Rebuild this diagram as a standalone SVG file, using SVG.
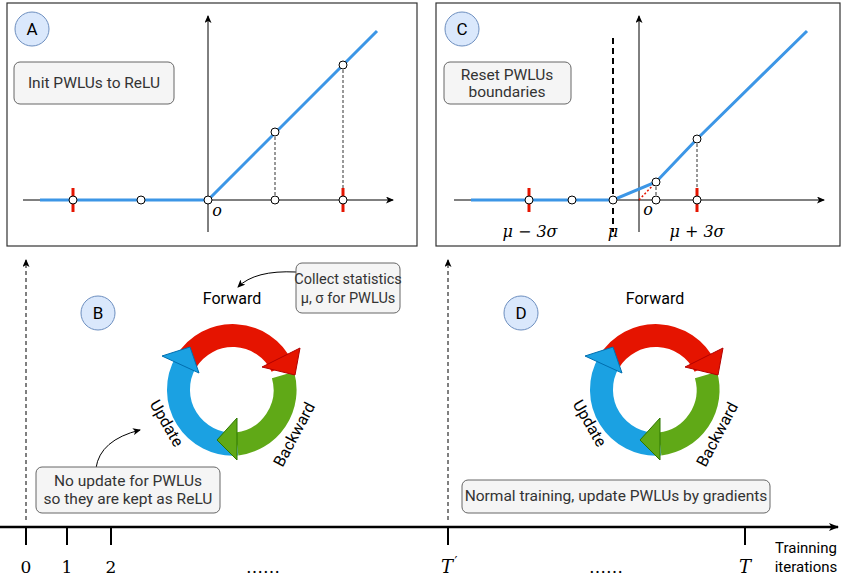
<svg xmlns="http://www.w3.org/2000/svg" width="846" height="579" viewBox="0 0 846 579">
<defs>
<marker id="ah" markerWidth="10" markerHeight="8" refX="9" refY="4" orient="auto" markerUnits="userSpaceOnUse"><path d="M0,0 L10,4 L0,8 L2.5,4 Z" fill="#000"/></marker>
<marker id="ahs" markerWidth="8" markerHeight="7" refX="7" refY="3.5" orient="auto" markerUnits="userSpaceOnUse"><path d="M0,0 L8,3.5 L0,7 L2,3.5 Z" fill="#000"/></marker>
<g id="cyc">
<path d="M186,362 A54.5,54.5 0 0 1 282,366.8" fill="none" stroke="#e51400" stroke-width="23"/>
<path d="M283,375 A54.5,54.5 0 0 1 237,444" fill="none" stroke="#60a917" stroke-width="23"/>
<path d="M237,444 A54.5,54.5 0 0 1 186,362" fill="none" stroke="#1ba1e2" stroke-width="23"/>
<polygon points="300,348 262,367 295,375" fill="#e51400" stroke="#b20000"/>
<polygon points="237,418 217,440 237,460" fill="#60a917" stroke="#2d7600"/>
<polygon points="162,356 190,347 199,373" fill="#1ba1e2" stroke="#006eaf"/>
</g>
</defs>
<style>
.frame{fill:#fff;stroke:#333;stroke-width:1.2}
.ax{stroke:#000;stroke-width:1;fill:none}
.bl{stroke:#3c96e6;stroke-width:3;fill:none}
.pt{fill:#fff;stroke:#000;stroke-width:1}
.rt{stroke:#e51400;stroke-width:3}
.dd{stroke:#333;stroke-width:1;stroke-dasharray:3,2}
.lab{fill:#dae8fc;stroke:#6c8ebf;stroke-width:1}
.box{fill:#f5f5f5;stroke:#666;stroke-width:1}
.t{font-family:Roboto,"Liberation Sans",sans-serif;font-size:15.5px;fill:#333;text-anchor:middle}
.tb{font-family:Roboto,"Liberation Sans",sans-serif;font-size:16px;fill:#000;text-anchor:middle}
.m{font-family:"DejaVu Serif","Liberation Serif",serif;font-style:italic;font-size:16px;fill:#000;text-anchor:middle}
.n{font-family:"DejaVu Serif","Liberation Serif",serif;font-size:17px;fill:#000;text-anchor:middle}
</style>
<g id="panelA">
<rect class="frame" x="7" y="3" width="410" height="243"/>
<line class="ax" x1="208" y1="232" x2="208" y2="16" marker-end="url(#ahs)"/>
<line class="ax" x1="23" y1="200" x2="393" y2="200" marker-end="url(#ahs)"/>
<line class="dd" x1="275" y1="132" x2="275" y2="200"/>
<line class="dd" x1="343" y1="65" x2="343" y2="200"/>
<polyline class="bl" points="40,200 208,200 377,31"/>
<line class="rt" x1="73" y1="188" x2="73" y2="212"/>
<line class="rt" x1="343" y1="188" x2="343" y2="212"/>
<circle class="pt" cx="73" cy="200" r="4"/><circle class="pt" cx="141" cy="200" r="4"/><circle class="pt" cx="208" cy="200" r="4"/>
<circle class="pt" cx="275" cy="132" r="4"/><circle class="pt" cx="275" cy="200" r="4"/><circle class="pt" cx="343" cy="65" r="4"/><circle class="pt" cx="343" cy="200" r="4"/>
<text class="m" x="217" y="216">o</text>
<circle class="lab" cx="32" cy="29" r="17"/><text class="tb" x="32" y="35" style="font-size:17px">A</text>
<rect class="box" x="14" y="62" width="160" height="42" rx="6"/><text class="t" x="94" y="88">Init PWLUs to ReLU</text>
</g>
<g id="panelC">
<rect class="frame" x="436" y="3" width="404" height="243"/>
<line class="ax" x1="639" y1="232" x2="639" y2="16" marker-end="url(#ahs)"/>
<line class="ax" x1="454" y1="200" x2="824" y2="200" marker-end="url(#ahs)"/>
<line x1="613" y1="38" x2="613" y2="232" stroke="#000" stroke-width="2" stroke-dasharray="6,4"/>
<line class="dd" x1="656" y1="182" x2="656" y2="200"/>
<line class="dd" x1="697" y1="139" x2="697" y2="200"/>
<line x1="639" y1="200" x2="656" y2="182" stroke="#e51400" stroke-width="1.5" stroke-dasharray="2,2"/>
<polyline class="bl" points="471,200 613,200 656,182 697,139 807,31"/>
<line class="rt" x1="529" y1="188" x2="529" y2="212"/>
<line class="rt" x1="697" y1="188" x2="697" y2="212"/>
<circle class="pt" cx="529" cy="200" r="4"/><circle class="pt" cx="572" cy="200" r="4"/><circle class="pt" cx="613" cy="200" r="4"/>
<circle class="pt" cx="656" cy="182" r="4"/><circle class="pt" cx="656" cy="200" r="4"/><circle class="pt" cx="697" cy="139" r="4"/><circle class="pt" cx="697" cy="200" r="4"/>
<text class="m" x="648" y="215">o</text>
<text class="m" x="530" y="237">μ − 3σ</text>
<text class="m" x="613" y="237">μ</text>
<text class="m" x="697" y="237">μ + 3σ</text>
<circle class="lab" cx="462" cy="29" r="17"/><text class="tb" x="462" y="35" style="font-size:17px">C</text>
<rect class="box" x="444" y="62" width="127" height="42" rx="6"/><text class="t" x="507" y="80">Reset PWLUs</text><text class="t" x="507" y="97">boundaries</text>
</g>
<g id="connectors">
<line x1="0" y1="527" x2="838" y2="527" stroke="#000" stroke-width="2.5" marker-end="url(#ah)"/>
<line x1="26" y1="520" x2="26" y2="260" class="ax" stroke-dasharray="4,3" marker-end="url(#ahs)"/>
<line x1="448" y1="520" x2="448" y2="260" class="ax" stroke-dasharray="4,3" marker-end="url(#ahs)"/>
<path d="M296,272 Q255,270 238,287" class="ax" stroke-width="1.5" marker-end="url(#ahs)"/>
<path d="M96,468 Q100,440 140,430" class="ax" stroke-width="1.5" marker-end="url(#ahs)"/>
</g>
<g id="axis-ticks" stroke="#000" stroke-width="2">
<line x1="26" y1="527" x2="26" y2="545"/><line x1="67" y1="527" x2="67" y2="545"/><line x1="111" y1="527" x2="111" y2="545"/>
<line x1="448" y1="527" x2="448" y2="545"/><line x1="745" y1="527" x2="745" y2="545"/>
</g>
<g id="axis-labels">
<text class="n" x="26" y="573">0</text><text class="n" x="67" y="573">1</text><text class="n" x="111" y="573">2</text>
<text class="n" x="263" y="573">……</text><text class="n" x="606" y="573">……</text>
<text class="m" x="447" y="573" style="font-size:18px">T</text><text class="n" x="456" y="566" style="font-size:13px">′</text>
<text class="m" x="745" y="573" style="font-size:18px">T</text>
<text class="t" x="806" y="553" style="fill:#000;font-size:15px">Trainning</text><text class="t" x="806" y="572" style="fill:#000;font-size:15px">iterations</text>
</g>
<g id="nodeB">
<circle class="lab" cx="98" cy="313" r="17"/><text class="tb" x="98" y="319" style="font-size:17px">B</text>
<use href="#cyc"/>
<text class="tb" x="232" y="304">Forward</text>
<text class="tb" transform="translate(299,437) rotate(-62)">Backward</text>
<text class="tb" transform="translate(162,426) rotate(60)">Update</text>
<rect class="box" x="296" y="263" width="104" height="50" rx="6"/><text class="t" x="348" y="284" style="font-size:14.5px">Collect statistics</text><text class="t" x="348" y="303" style="font-size:14.5px">μ, σ for PWLUs</text>
<rect class="box" x="36" y="467" width="184" height="46" rx="6"/><text class="t" x="128" y="486">No update for PWLUs</text><text class="t" x="128" y="504">so they are kept as ReLU</text>
</g>
<g id="nodeD">
<circle class="lab" cx="521" cy="313" r="17"/><text class="tb" x="521" y="319" style="font-size:17px">D</text>
<use href="#cyc" x="423"/>
<text class="tb" x="655" y="304">Forward</text>
<text class="tb" transform="translate(722,437) rotate(-62)">Backward</text>
<text class="tb" transform="translate(585,426) rotate(60)">Update</text>
<rect class="box" x="462" y="480" width="308" height="33" rx="6"/><text class="t" x="616" y="501">Normal training, update PWLUs by gradients</text>
</g>
</svg>
